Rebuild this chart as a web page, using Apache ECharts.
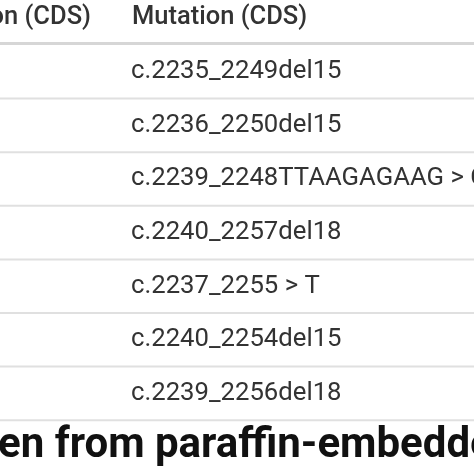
<!DOCTYPE html><html><head><meta charset="utf-8">
<script src="https://cdn.jsdelivr.net/npm/echarts@6/dist/echarts.min.js"></script>
<style>html,body{margin:0;padding:0;background:#fff}#c{width:474px;height:474px}</style></head><body><div id="c"></div>
<script>
const headers = ["on (CDS)", "Mutation (CDS)"];
const mutations = ["c.2235_2249del15","c.2236_2250del15","c.2239_2248TTAAGAGAAG > C","c.2240_2257del18","c.2237_2255 > T","c.2240_2254del15","c.2239_2256del18"];
const caption = "en from paraffin-embedded";
const chart = echarts.init(document.getElementById('c'));
const g = [];
g.push({type:'text',x:91,y:18,style:{text:headers[0],font:'500 25.5px Roboto',fill:'#333',align:'right',verticalAlign:'middle'}});
g.push({type:'text',x:132,y:18,style:{text:headers[1],font:'500 25.5px Roboto',fill:'#333',verticalAlign:'middle'}});
g.push({type:'rect',shape:{x:0,y:42,width:474,height:3},style:{fill:'#d6d6d6'}});
const top0=45, rh=53.6;
mutations.forEach((m,i)=>{
  const cy = top0 + rh*i + rh/2;
  g.push({type:'text',x:131,y:cy,style:{text:m,font:'25.7px Roboto',fill:'#333',verticalAlign:'middle'}});
  g.push({type:'rect',shape:{x:0,y:top0+rh*(i+1)-1,width:474,height:2},style:{fill:'#e0e0e0'}});
});
g.push({type:'text',x:-2,y:446,style:{text:caption,font:'bold 42px Roboto',fill:'#111',verticalAlign:'middle'}});
chart.setOption({animation:false,graphic:g});
</script></body></html>
